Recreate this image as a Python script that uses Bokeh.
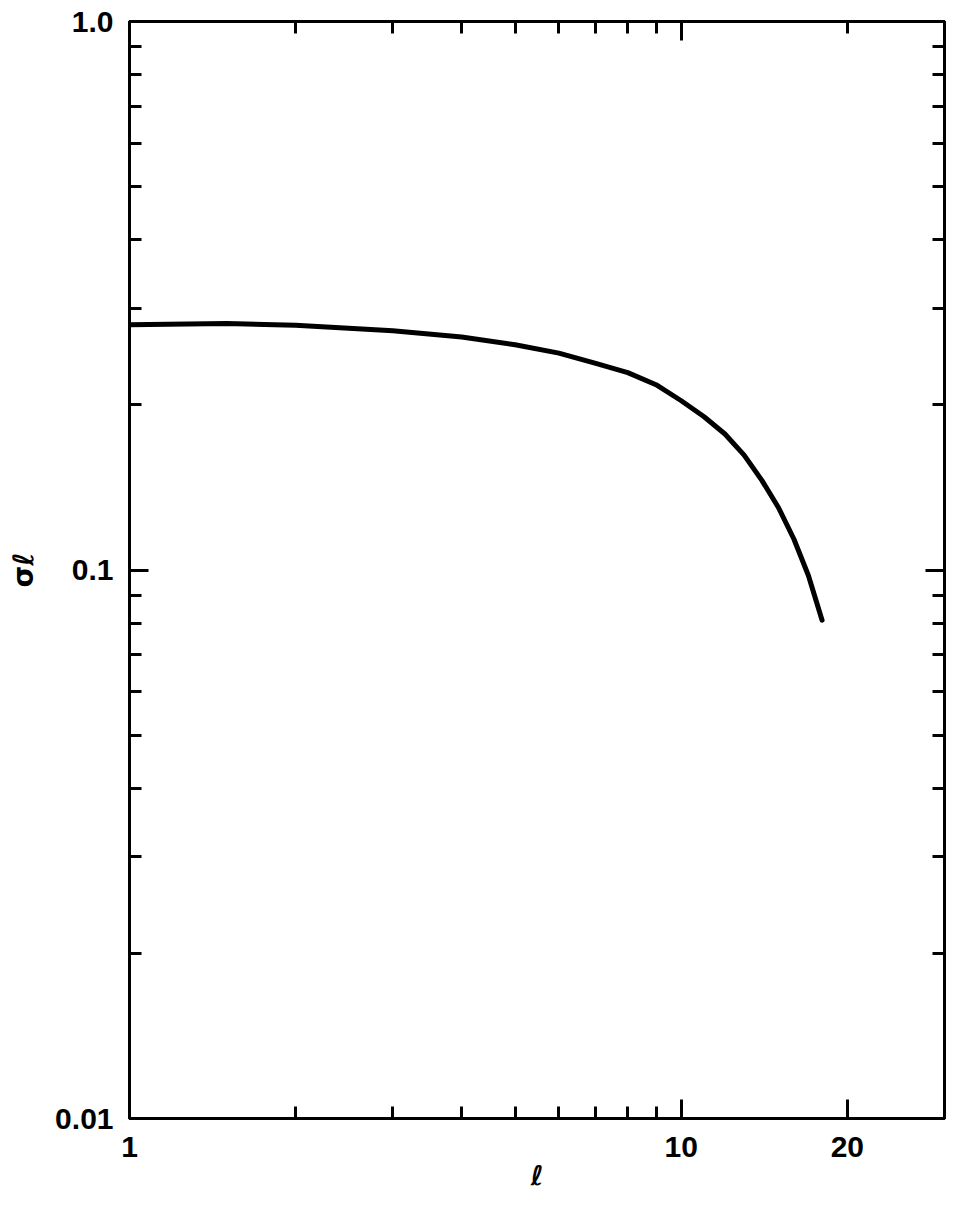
from bokeh.plotting import figure
from bokeh.models import FixedTicker, LogAxis, Range1d, CustomJSTickFormatter
from bokeh.embed import file_html
from bokeh.resources import INLINE

# data
ell = [1, 1.5, 2, 3, 4, 5, 6, 7, 8, 9, 10, 11, 12, 13, 14, 15, 16, 17, 18]
sigma = [0.280, 0.2815, 0.2795, 0.273, 0.266, 0.2575, 0.2485, 0.238, 0.229,
         0.2177, 0.2035, 0.1903, 0.177, 0.162, 0.1457, 0.130, 0.1139, 0.0977, 0.081]

x_major = [1, 10, 20]
x_minor = [2, 3, 4, 5, 6, 7, 8, 9, 30]
x_labels = {1: "1", 10: "10", 20: "20"}
y_major = [0.01, 0.1, 1.0]
y_minor = [0.02, 0.03, 0.04, 0.05, 0.06, 0.07, 0.08, 0.09,
           0.2, 0.3, 0.4, 0.5, 0.6, 0.7, 0.8, 0.9]
y_labels = {0.01: "0.01", 0.1: "0.1", 1.0: "1.0"}

FONT = "Liberation Sans"

p = figure(frame_width=815, frame_height=1097, x_axis_type="log", y_axis_type="log",
           x_range=Range1d(1, 30), y_range=Range1d(0.01, 1.0),
           output_backend="svg", toolbar_location=None,
           min_border_left=129, min_border_right=10,
           min_border_top=21, min_border_bottom=86)
p.xgrid.visible = False
p.ygrid.visible = False
p.outline_line_color = "black"
p.outline_line_width = 3
p.background_fill_color = "white"
p.border_fill_color = "white"


def style(ax, major, minor):
    ax.ticker = FixedTicker(ticks=major, minor_ticks=minor)
    ax.axis_line_width = 3
    ax.axis_line_color = "black"
    ax.major_tick_in = 19
    ax.major_tick_out = 0
    ax.minor_tick_in = 12
    ax.minor_tick_out = 0
    ax.major_tick_line_width = 3
    ax.minor_tick_line_width = 3
    ax.major_label_text_font = FONT
    ax.major_label_text_font_style = "bold"
    ax.major_label_text_font_size = "30px"
    ax.major_label_text_color = "black"
    ax.axis_label_text_color = "black"


xa = p.xaxis[0]
style(xa, x_major, x_minor)
xa.major_label_overrides = x_labels
xa.major_label_standoff = 18
xa.axis_label = "ℓ"
xa.axis_label_text_font = "DejaVu Sans"
xa.axis_label_text_font_style = "bold italic"
xa.axis_label_text_font_size = "27px"
xa.axis_label_standoff = 0

ya = p.yaxis[0]
style(ya, y_major, y_minor)
ya.major_label_overrides = y_labels
ya.major_label_standoff = 16
ya.axis_label = "σℓ"
ya.axis_label_text_font = "DejaVu Sans"
ya.axis_label_text_font_style = "bold"
ya.axis_label_text_font_size = "28px"
ya.axis_label_standoff = 12

blank = CustomJSTickFormatter(code="return ''")
top = LogAxis()
style(top, [1, 10], x_minor + [20])
top.formatter = blank
top.major_label_text_font_size = "0px"
right = LogAxis()
style(right, y_major, y_minor)
right.formatter = blank
right.major_label_text_font_size = "0px"
p.add_layout(top, "above")
p.add_layout(right, "right")

p.line(ell, sigma, line_width=5, line_color="black",
       line_cap="round", line_join="round")

open("out.html", "w").write(file_html(p, INLINE))
